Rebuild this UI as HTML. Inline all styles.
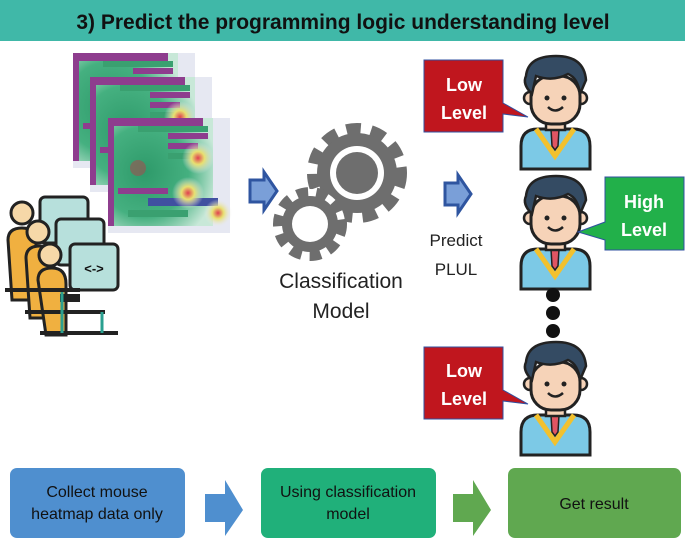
<!DOCTYPE html>
<html><head><meta charset="utf-8"><style>
body{margin:0;width:685px;height:540px;background:#fff;overflow:hidden;font-family:"Liberation Sans",sans-serif}
</style></head><body>
<svg width="685" height="540" viewBox="0 0 685 540" xmlns="http://www.w3.org/2000/svg">
<defs>
<radialGradient id="hm" cx="50%" cy="50%" r="50%"><stop offset="0" stop-color="#e04050"/><stop offset="0.4" stop-color="#e8e070"/><stop offset="1" stop-color="#e8e8f4" stop-opacity="0"/></radialGradient>
<radialGradient id="gr" cx="35%" cy="50%" r="70%"><stop offset="0" stop-color="#2e9a6a"/><stop offset="0.6" stop-color="#45b080"/><stop offset="1" stop-color="#c8e8d8"/></radialGradient>
<g id="shot">
<rect x="0" y="0" width="122" height="115" fill="#e6e8f2"/>
<rect x="0" y="0" width="105" height="108" fill="url(#gr)"/>
<rect x="0" y="0" width="95" height="8" fill="#8e3d8e"/>
<rect x="0" y="8" width="6" height="100" fill="#8e3d8e"/>
<rect x="30" y="8" width="70" height="6" fill="#3aa070"/>
<rect x="60" y="15" width="40" height="6" fill="#8e3d8e"/>
<rect x="60" y="25" width="30" height="6" fill="#8e3d8e"/>
<rect x="60" y="35" width="30" height="6" fill="#3aa070"/>
<rect x="10" y="70" width="50" height="6" fill="#8e3d8e"/>
<rect x="40" y="80" width="70" height="8" fill="#4050a0"/>
<rect x="20" y="92" width="60" height="7" fill="#3aa070"/>
<circle cx="90" cy="40" r="16" fill="url(#hm)"/>
<circle cx="80" cy="75" r="16" fill="url(#hm)"/>
<circle cx="110" cy="95" r="14" fill="url(#hm)"/>
<circle cx="30" cy="50" r="8" fill="#a05050" opacity="0.6"/>
</g>
<g id="person">
<path d="M3 115 L3 92 Q3 75 20 75 L55 75 Q72 75 72 92 L72 115Z" fill="#7cc9e6" stroke="#222" stroke-width="3"/>
<path d="M18 75 L37 102 L56 75" fill="none" stroke="#f2c12e" stroke-width="5"/>
<path d="M33 75 L41 75 L40 92 L37 96 L34 92Z" fill="#e05563" stroke="#222" stroke-width="1.5"/>
<rect x="28" y="62" width="19" height="14" fill="#f6d3b8" stroke="#222" stroke-width="2.5"/>
<circle cx="12" cy="44" r="6" fill="#f6d3b8" stroke="#222" stroke-width="2.5"/>
<circle cx="63" cy="44" r="6" fill="#f6d3b8" stroke="#222" stroke-width="2.5"/>
<rect x="13" y="22" width="49" height="48" rx="20" fill="#f6d3b8" stroke="#222" stroke-width="3"/>
<path d="M8 22 Q10 2 38 2 Q66 2 68 26 L62 40 Q60 24 50 20 Q35 28 18 22 L14 40 Q4 30 8 22Z" fill="#344b63" stroke="#222" stroke-width="2.5"/>
<circle cx="29" cy="44" r="2.5" fill="#222"/><circle cx="46" cy="44" r="2.5" fill="#222"/>
<path d="M30 53 Q37 60 45 53" fill="none" stroke="#222" stroke-width="2.5"/>
</g>
</defs>
<rect x="0" y="0" width="685" height="41" fill="#40b8a8"/>
<text x="343" y="29" text-anchor="middle" font-size="21" font-weight="bold" fill="#111">3) Predict the programming logic understanding level</text>

<use href="#shot" x="73" y="53"/>
<use href="#shot" x="90" y="77"/>
<use href="#shot" x="108" y="118"/>

<!-- workers -->
<g stroke="#222" stroke-width="3">
<rect x="40" y="197" width="48" height="46" rx="5" fill="#b7e0dc"/>
<rect x="56" y="219" width="48" height="46" rx="5" fill="#b7e0dc"/>
<rect x="70" y="244" width="48" height="46" rx="5" fill="#b7e0dc"/>
<path d="M8 240 Q8 228 22 228 Q36 228 36 244 L36 300 L12 300Z" fill="#f0b040"/>
<circle cx="22" cy="213" r="11" fill="#f6d8a8"/>
<path d="M26 258 Q26 246 40 246 Q54 246 54 262 L54 318 L30 318Z" fill="#f0b040"/>
<circle cx="38" cy="232" r="11" fill="#f6d8a8"/>
<path d="M38 280 Q38 268 52 268 Q66 268 66 284 L66 335 L46 335Z" fill="#f0b040"/>
<path d="M60 298 L80 298" stroke="#222" stroke-width="8"/>
<circle cx="50" cy="255" r="11" fill="#f6d8a8"/>
<line x1="5" y1="290" x2="80" y2="290" stroke-width="4"/>
<line x1="25" y1="312" x2="105" y2="312" stroke-width="4"/>
<line x1="40" y1="333" x2="118" y2="333" stroke-width="4"/>
<line x1="62" y1="292" x2="62" y2="333" stroke="#2aa090"/>
<line x1="102" y1="312" x2="102" y2="333" stroke="#2aa090"/>
</g>
<text x="94" y="273" text-anchor="middle" font-size="13" font-weight="bold" fill="#111">&lt;-&gt;</text>

<!-- arrows -->
<path d="M250 180 L264 180 L264 172 L277 191 L264 210 L264 202 L250 202Z" fill="#7a9fd8" stroke="#2f55a0" stroke-width="3"/>
<path d="M445 183 L458 183 L458 175 L471 194 L458 213 L458 205 L445 205Z" fill="#7a9fd8" stroke="#2f55a0" stroke-width="3"/>

<!-- gears -->
<circle cx="357" cy="173" r="43" fill="none" stroke="#6e6e6e" stroke-width="14" stroke-dasharray="14 10"/>
<circle cx="357" cy="173" r="40" fill="#6e6e6e"/>
<circle cx="357" cy="173" r="27" fill="#fff"/>
<circle cx="357" cy="173" r="21" fill="#6e6e6e"/>
<circle cx="310" cy="224" r="35" fill="#fff"/>
<circle cx="310" cy="224" r="31" fill="none" stroke="#6e6e6e" stroke-width="12" stroke-dasharray="11 8"/>
<circle cx="310" cy="224" r="28" fill="#6e6e6e"/>
<circle cx="310" cy="224" r="18" fill="#fff"/>
<text x="341" y="288" text-anchor="middle" font-size="21" fill="#222">Classification</text>
<text x="341" y="318" text-anchor="middle" font-size="21" fill="#222">Model</text>
<text x="456" y="246" text-anchor="middle" font-size="17" fill="#222">Predict</text>
<text x="456" y="275" text-anchor="middle" font-size="17" fill="#222">PLUL</text>

<!-- persons -->
<use href="#person" x="518" y="54"/>
<use href="#person" x="518" y="174"/>
<use href="#person" x="518" y="340"/>
<circle cx="553" cy="295" r="7" fill="#111"/>
<circle cx="553" cy="313" r="7" fill="#111"/>
<circle cx="553" cy="331" r="7" fill="#111"/>

<!-- bubbles -->
<path d="M424 60 L503 60 L503 103 L528 117 L503 114 L503 132 L424 132Z" fill="#c0161e" stroke="#3050a0" stroke-width="1"/>
<text x="464" y="91" text-anchor="middle" font-size="18" font-weight="bold" fill="#fff">Low</text>
<text x="464" y="119" text-anchor="middle" font-size="18" font-weight="bold" fill="#fff">Level</text>
<path d="M605 177 L684 177 L684 250 L605 250 L605 240 L578 232 L605 222Z" fill="#22b04a" stroke="#3050a0" stroke-width="1"/>
<text x="644" y="208" text-anchor="middle" font-size="18" font-weight="bold" fill="#fff">High</text>
<text x="644" y="236" text-anchor="middle" font-size="18" font-weight="bold" fill="#fff">Level</text>
<path d="M424 347 L503 347 L503 390 L528 404 L503 401 L503 419 L424 419Z" fill="#c0161e" stroke="#3050a0" stroke-width="1"/>
<text x="464" y="377" text-anchor="middle" font-size="18" font-weight="bold" fill="#fff">Low</text>
<text x="464" y="405" text-anchor="middle" font-size="18" font-weight="bold" fill="#fff">Level</text>

<!-- bottom -->
<rect x="10" y="468" width="175" height="70" rx="7" fill="#4f8fcf"/>
<text x="97" y="497" text-anchor="middle" font-size="16" fill="#111">Collect mouse</text>
<text x="97" y="519" text-anchor="middle" font-size="16" fill="#111">heatmap data only</text>
<path d="M205 494 L225 494 L225 480 L243 510 L225 536 L225 522 L205 522Z" fill="#4f8fcf"/>
<rect x="261" y="468" width="175" height="70" rx="7" fill="#20b07a"/>
<text x="348" y="497" text-anchor="middle" font-size="16" fill="#111">Using classification</text>
<text x="348" y="519" text-anchor="middle" font-size="16" fill="#111">model</text>
<path d="M453 494 L473 494 L473 480 L491 510 L473 536 L473 522 L453 522Z" fill="#60a850"/>
<rect x="508" y="468" width="173" height="70" rx="7" fill="#60a850"/>
<text x="594" y="509" text-anchor="middle" font-size="16" fill="#111">Get result</text>
</svg>
</body></html>
